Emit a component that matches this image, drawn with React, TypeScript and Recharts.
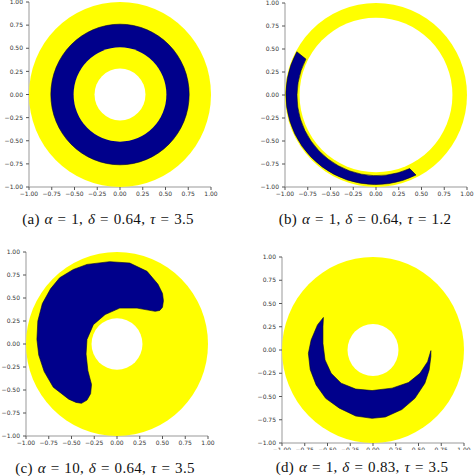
import React from 'react';
import { ScatterChart, Scatter, XAxis, YAxis } from 'recharts';

type Pt = { x: number; y: number };
type Kind = 'disc' | 'sector' | 'poly';
type Layer = { kind: Kind; color: string; data: Pt[]; edge?: boolean };

const TICKS = [-1, -0.75, -0.5, -0.25, 0, 0.25, 0.5, 0.75, 1];

const YELLOW = '#ffff00';
const NAVY = '#00008b';
const WHITE = '#ffffff';

// radii of the discs, all centred on the origin
const DOMAIN_R = 1;
const HOLE_R = 0.28;
const BAND_A = [0.76, 0.51]; // navy ring of (a): outer, inner
const RING_B_INNER = 0.84;

// navy arc of (b): centre, outer start, outer end, inner end, inner start
const ARC_B: Pt[] = [
  { x: 0, y: 0 },
  { x: -0.87, y: 0.47 },
  { x: 0.44, y: -0.87 },
  { x: 0.37, y: -0.8 },
  { x: -0.77, y: 0.39 },
];

// navy region of (c), clockwise from the top
const BLOB_C: Pt[] = [
  { x: -0.08, y: 0.895 },
  { x: 0.14, y: 0.88 },
  { x: 0.33, y: 0.79 },
  { x: 0.45, y: 0.65 },
  { x: 0.5, y: 0.55 },
  { x: 0.51, y: 0.47 },
  { x: 0.5, y: 0.4 },
  { x: 0.47, y: 0.365 },
  { x: 0.42, y: 0.355 },
  { x: 0.22, y: 0.39 },
  { x: 0.03, y: 0.39 },
  { x: -0.13, y: 0.32 },
  { x: -0.26, y: 0.21 },
  { x: -0.33, y: 0.05 },
  { x: -0.34, y: -0.11 },
  { x: -0.32, y: -0.29 },
  { x: -0.28, y: -0.44 },
  { x: -0.29, y: -0.54 },
  { x: -0.33, y: -0.61 },
  { x: -0.39, y: -0.645 },
  { x: -0.45, y: -0.635 },
  { x: -0.53, y: -0.6 },
  { x: -0.7, y: -0.47 },
  { x: -0.8, y: -0.3 },
  { x: -0.86, y: -0.12 },
  { x: -0.88, y: 0.05 },
  { x: -0.87, y: 0.25 },
  { x: -0.82, y: 0.44 },
  { x: -0.73, y: 0.6 },
  { x: -0.63, y: 0.72 },
  { x: -0.48, y: 0.81 },
  { x: -0.33, y: 0.865 },
];

// navy crescent of (d), from the upper tip round the outside and back
const CRESCENT_D: Pt[] = [
  { x: -0.545, y: 0.35 },
  { x: -0.61, y: 0.27 },
  { x: -0.68, y: 0.107 },
  { x: -0.71, y: -0.036 },
  { x: -0.69, y: -0.21 },
  { x: -0.625, y: -0.375 },
  { x: -0.52, y: -0.52 },
  { x: -0.37, y: -0.625 },
  { x: -0.19, y: -0.71 },
  { x: -0.01, y: -0.735 },
  { x: 0.136, y: -0.72 },
  { x: 0.317, y: -0.64 },
  { x: 0.46, y: -0.52 },
  { x: 0.57, y: -0.357 },
  { x: 0.617, y: -0.214 },
  { x: 0.636, y: -0.07 },
  { x: 0.636, y: -0.007 },
  { x: 0.6, y: -0.125 },
  { x: 0.516, y: -0.25 },
  { x: 0.39, y: -0.35 },
  { x: 0.21, y: -0.41 },
  { x: -0.01, y: -0.436 },
  { x: -0.19, y: -0.42 },
  { x: -0.35, y: -0.357 },
  { x: -0.46, y: -0.25 },
  { x: -0.527, y: -0.107 },
  { x: -0.55, y: 0.07 },
  { x: -0.55, y: 0.25 },
];

const disc = (r: number, color: string, edge = false): Layer => ({
  kind: 'disc',
  color,
  edge,
  data: [{ x: 0, y: 0 }, { x: r, y: 0 }, { x: 0, y: r }],
});

const LAYERS_A: Layer[] = [
  disc(DOMAIN_R, YELLOW),
  disc(BAND_A[0], NAVY, true),
  disc(BAND_A[1], YELLOW),
  disc(HOLE_R, WHITE),
];
const LAYERS_B: Layer[] = [
  disc(DOMAIN_R, YELLOW),
  disc(RING_B_INNER, WHITE),
  { kind: 'sector', color: NAVY, data: ARC_B, edge: true },
];
const LAYERS_C: Layer[] = [
  disc(DOMAIN_R, YELLOW),
  { kind: 'poly', color: NAVY, data: BLOB_C, edge: true },
  disc(HOLE_R, WHITE),
];
const LAYERS_D: Layer[] = [
  disc(DOMAIN_R, YELLOW),
  disc(HOLE_R, WHITE),
  { kind: 'poly', color: NAVY, data: CRESCENT_D, edge: true },
];

const dist = (a: Pt, b: Pt) => Math.hypot(a.x - b.x, a.y - b.y);

// the scatter "line" gets the points already through the axis scales
const drawLayer = (layer: Layer) => (props: any) => {
  const p: Pt[] = props.points;
  const stroke = layer.edge ? '#000033' : 'none';
  if (layer.kind === 'disc') {
    const [c, rx, ry] = p;
    return (
      <ellipse
        cx={c.x}
        cy={c.y}
        rx={Math.abs(rx.x - c.x)}
        ry={Math.abs(c.y - ry.y)}
        fill={layer.color}
        stroke={stroke}
        strokeWidth={0.6}
      />
    );
  }
  if (layer.kind === 'sector') {
    const [c, o1, o2, i2, i1] = p;
    const ro = (dist(c, o1) + dist(c, o2)) / 2;
    const ri = (dist(c, i1) + dist(c, i2)) / 2;
    const d = `M${o1.x},${o1.y}A${ro},${ro} 0 0 0 ${o2.x},${o2.y}L${i2.x},${i2.y}A${ri},${ri} 0 0 1 ${i1.x},${i1.y}Z`;
    return <path d={d} fill={layer.color} stroke={stroke} strokeWidth={0.6} />;
  }
  const d = 'M' + p.map((q) => `${q.x},${q.y}`).join('L') + 'Z';
  return <path d={d} fill={layer.color} stroke={stroke} strokeWidth={0.6} strokeLinejoin="round" />;
};

const fmt = (v: number) => v.toFixed(2).replace('-', '\u2212');
const tickStyle = { fontSize: 6, fill: '#333', fontFamily: 'DejaVu Sans' };

function Panel({
  layers,
  width,
  height,
  margin,
  yWidth,
  xHeight,
}: {
  layers: Layer[];
  width: number;
  height: number;
  margin: { top: number; right: number; bottom: number; left: number };
  yWidth: number;
  xHeight: number;
}) {
  return (
    <ScatterChart width={width} height={height} margin={margin}>
      <XAxis
        type="number"
        dataKey="x"
        domain={[-1, 1]}
        ticks={TICKS}
        allowDataOverflow
        interval={0}
        height={xHeight}
        tickFormatter={fmt}
        tick={tickStyle}
        tickSize={3}
        tickMargin={2}
        axisLine={{ stroke: '#999' }}
        tickLine={{ stroke: '#555' }}
      />
      <YAxis
        type="number"
        dataKey="y"
        domain={[-1, 1]}
        ticks={TICKS}
        allowDataOverflow
        interval={0}
        width={yWidth}
        tickFormatter={fmt}
        tick={tickStyle}
        tickSize={3}
        tickMargin={3}
        axisLine={{ stroke: '#999' }}
        tickLine={{ stroke: '#555' }}
      />
      {layers.map((l, i) => (
        <Scatter key={i} data={l.data} isAnimationActive={false} shape={() => <g />} line={drawLayer(l)} />
      ))}
    </ScatterChart>
  );
}

function Caption({ tag, alpha, delta, tau, cx, top }: { tag: string; alpha: string; delta: string; tau: string; cx: number; top: number }) {
  return (
    <div
      style={{
        position: 'absolute',
        left: cx,
        top,
        transform: 'translateX(-50%)',
        whiteSpace: 'pre',
        fontFamily: '"Liberation Serif", serif',
        fontSize: 15,
        lineHeight: 1,
        wordSpacing: 0.8,
        letterSpacing: 0.3,
        color: '#111',
      }}
    >
      ({tag}) <i>α</i> = {alpha}, <i>δ</i> = {delta}, <i>τ</i> = {tau}
    </div>
  );
}

export default function App() {
  return (
    <div style={{ position: 'absolute', left: 0, top: 0, width: 474, height: 476, background: '#fff', overflow: 'hidden' }}>
      <div style={{ position: 'absolute', left: 0, top: 0 }}>
        <Panel layers={LAYERS_A} width={220} height={200} margin={{ top: 2, right: 9, bottom: 0, left: 0 }} yWidth={29} xHeight={13} />
      </div>
      <div style={{ position: 'absolute', left: 237, top: 0 }}>
        <Panel layers={LAYERS_B} width={237} height={200} margin={{ top: 3, right: 7, bottom: 0, left: 0 }} yWidth={48} xHeight={13} />
      </div>
      <div style={{ position: 'absolute', left: 0, top: 238 }}>
        <Panel layers={LAYERS_C} width={215} height={211} margin={{ top: 14, right: 7, bottom: 0, left: 0 }} yWidth={26} xHeight={13} />
      </div>
      <div style={{ position: 'absolute', left: 237, top: 238, height: 212, overflow: 'hidden' }}>
        <Panel layers={LAYERS_D} width={237} height={220} margin={{ top: 19, right: 10, bottom: 0, left: 0 }} yWidth={45} xHeight={15} />
      </div>
      <Caption tag="a" alpha="1" delta="0.64" tau="3.5" cx={108} top={212} />
      <Caption tag="b" alpha="1" delta="0.64" tau="1.2" cx={365} top={212} />
      <Caption tag="c" alpha="10" delta="0.64" tau="3.5" cx={105} top={461} />
      <Caption tag="d" alpha="1" delta="0.83" tau="3.5" cx={362} top={460} />
    </div>
  );
}
